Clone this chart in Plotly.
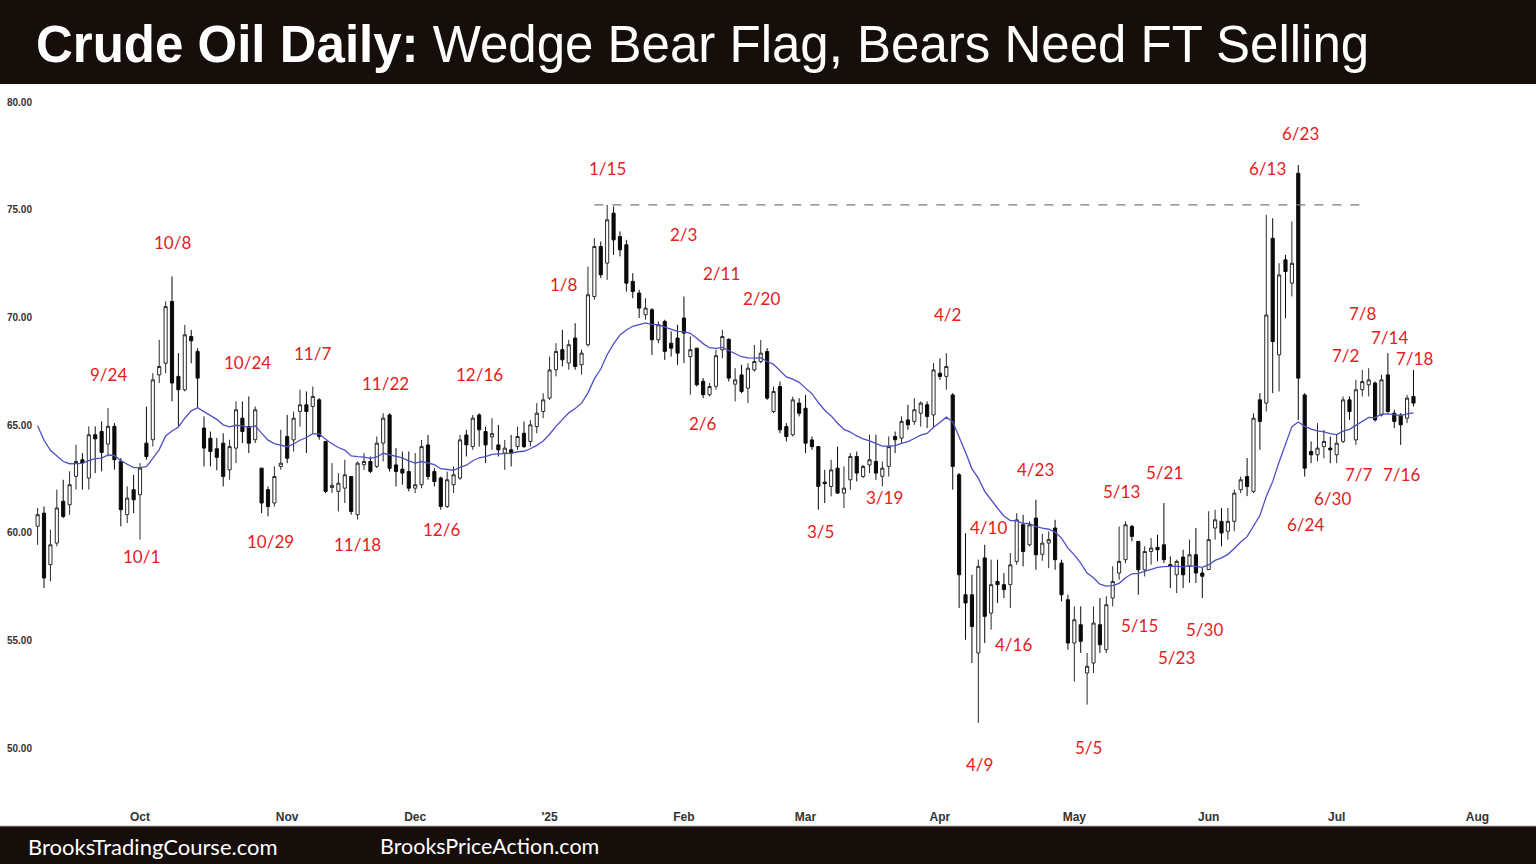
import pandas as pd
import plotly.graph_objects as go

# ---------------- data ----------------
HOLIDAYS = ["2024-11-28", "2024-12-25", "2025-01-01", "2025-01-20", "2025-02-17",
            "2025-04-18", "2025-05-26", "2025-06-19", "2025-07-04"]
DATES = pd.bdate_range("2024-09-09", "2025-07-18", freq="C", holidays=HOLIDAYS)

OPEN = [60.30, 60.91, 58.52, 59.52, 61.46, 61.30, 62.62, 63.39, 62.54, 64.55,
        64.70, 64.12, 64.94, 63.31, 60.84, 62.00, 61.77, 64.16, 64.32, 67.33,
        67.87, 70.74, 67.26, 66.64, 69.11, 68.42, 64.86, 64.39, 63.90, 64.16,
        62.92, 63.93, 65.32, 64.93, 64.32, 63.00, 62.00, 61.38, 63.08, 64.47,
        64.31, 65.63, 65.94, 65.86, 66.17, 64.24, 62.10, 61.92, 62.07, 62.61,
        60.84, 63.16, 63.31, 63.08, 64.16, 65.47, 63.15, 62.95, 62.84, 62.07,
        62.23, 64.08, 62.84, 62.54, 61.22, 62.23, 62.54, 64.54, 64.00, 65.47,
        64.70, 64.45, 64.08, 63.70, 63.85, 64.00, 64.62, 64.24, 64.93, 65.63,
        66.25, 67.57, 68.50, 67.88, 69.04, 67.80, 68.73, 70.97, 73.29, 72.52,
        74.84, 73.75, 73.37, 71.67, 71.13, 70.12, 70.35, 68.96, 69.81, 68.80,
        69.04, 69.97, 68.18, 68.57, 67.03, 66.41, 66.80, 68.49, 68.98, 66.90,
        67.33, 66.71, 67.56, 67.95, 68.41, 65.63, 66.79, 64.93, 64.55, 66.02,
        65.78, 64.31, 64.00, 62.35, 62.15, 63.00, 61.84, 62.46, 63.54, 62.61,
        63.15, 63.31, 62.62, 63.08, 64.47, 64.39, 65.24, 65.17, 65.55, 65.94,
        65.47, 67.41, 67.26, 66.40, 62.69, 57.12, 57.12, 54.42, 58.83, 56.27,
        57.74, 57.59, 57.59, 58.67, 60.37, 59.44, 60.68, 59.00, 59.52, 60.22,
        58.59, 56.89, 54.88, 55.73, 53.49, 53.95, 55.73, 54.57, 56.97, 58.13,
        58.75, 60.29, 59.60, 58.28, 59.13, 59.32, 59.44, 58.52, 58.05, 58.87,
        58.44, 58.98, 58.13, 58.29, 60.22, 60.53, 60.07, 60.53, 62.00, 62.61,
        61.92, 66.17, 66.02, 73.67, 68.26, 72.67, 71.59, 76.69, 66.40, 63.77,
        63.62, 64.00, 63.93, 63.62, 64.24, 66.17, 64.31, 66.64, 66.87, 66.95,
        65.47, 67.33, 65.55, 65.47, 65.32, 66.33]
HIGH = [61.15, 61.22, 60.14, 62.00, 62.46, 62.85, 64.09, 63.70, 64.94, 64.94,
        65.17, 65.79, 65.09, 63.47, 62.15, 62.69, 63.23, 65.86, 67.41, 68.96,
        70.74, 71.90, 68.34, 69.65, 69.42, 68.57, 65.40, 64.70, 64.40, 64.62,
        64.32, 66.10, 66.10, 66.33, 65.86, 63.00, 62.15, 63.08, 64.78, 65.47,
        65.63, 66.64, 66.56, 66.79, 66.25, 64.24, 63.23, 62.77, 63.39, 62.61,
        63.31, 63.70, 63.54, 64.47, 65.55, 65.55, 63.93, 63.77, 63.77, 63.70,
        64.31, 64.54, 63.00, 62.61, 62.84, 63.08, 64.54, 64.78, 65.47, 65.55,
        64.93, 65.32, 65.01, 64.31, 64.54, 64.93, 65.16, 65.24, 66.02, 66.48,
        68.18, 68.80, 69.42, 68.96, 69.73, 68.50, 72.36, 73.68, 73.52, 75.22,
        75.15, 73.99, 73.60, 72.05, 71.28, 70.89, 70.43, 69.81, 69.89, 69.35,
        69.66, 70.97, 69.11, 68.57, 67.18, 66.95, 68.50, 69.42, 69.03, 67.64,
        67.80, 67.87, 68.72, 68.95, 68.57, 66.79, 67.02, 65.09, 66.32, 66.25,
        66.40, 64.47, 64.00, 62.92, 63.39, 64.00, 63.08, 63.70, 63.77, 63.15,
        64.55, 64.55, 63.31, 64.47, 64.70, 65.40, 65.94, 66.25, 66.10, 66.10,
        67.87, 68.10, 68.34, 66.48, 62.77, 59.98, 58.05, 58.75, 59.44, 58.75,
        58.75, 58.13, 59.06, 60.91, 60.83, 60.53, 61.53, 59.95, 60.06, 60.60,
        58.75, 57.12, 56.58, 56.58, 54.42, 56.58, 56.97, 57.05, 58.44, 60.29,
        60.53, 60.37, 59.60, 59.37, 59.75, 59.91, 61.38, 58.90, 58.75, 59.21,
        59.68, 60.22, 58.36, 61.00, 61.07, 61.15, 61.15, 62.00, 62.61, 63.47,
        65.55, 66.48, 74.76, 74.60, 72.51, 72.90, 74.45, 77.08, 66.48, 64.24,
        65.09, 64.78, 64.47, 64.55, 66.33, 66.33, 67.10, 67.56, 67.64, 67.02,
        67.33, 68.34, 65.71, 65.55, 66.40, 67.56]
LOW = [59.44, 57.43, 57.74, 59.37, 60.68, 60.84, 62.00, 62.00, 62.00, 62.77,
       62.85, 63.54, 62.93, 60.30, 60.45, 60.91, 59.68, 63.39, 64.01, 66.95,
       67.41, 66.10, 64.94, 66.56, 67.87, 65.79, 63.08, 63.08, 62.90, 62.15,
       62.46, 63.23, 64.16, 63.70, 64.16, 60.91, 60.76, 61.22, 62.92, 63.23,
       63.77, 64.93, 63.70, 64.62, 64.32, 61.84, 61.84, 60.99, 61.38, 60.84,
       60.61, 62.92, 62.77, 63.00, 63.31, 62.84, 62.15, 62.23, 61.92, 61.84,
       62.07, 62.46, 62.15, 61.07, 61.15, 61.84, 62.46, 63.54, 63.85, 64.00,
       63.23, 63.85, 63.54, 62.92, 63.08, 63.85, 63.93, 64.00, 64.62, 65.32,
       66.17, 67.26, 67.72, 67.57, 67.57, 67.34, 68.65, 70.82, 71.82, 71.74,
       72.90, 72.83, 71.20, 70.89, 69.97, 69.89, 68.26, 68.80, 68.03, 68.18,
       67.80, 67.88, 66.41, 66.79, 66.25, 66.33, 66.64, 68.10, 67.02, 66.10,
       66.48, 66.02, 67.48, 67.87, 66.17, 65.55, 64.62, 64.24, 64.47, 65.40,
       63.70, 63.85, 61.07, 61.38, 61.69, 61.80, 61.15, 61.99, 62.38, 62.54,
       62.77, 62.46, 62.15, 62.61, 63.70, 64.16, 64.78, 65.01, 64.93, 64.86,
       64.86, 67.10, 66.64, 62.00, 56.51, 55.03, 53.95, 51.17, 54.88, 55.50,
       56.74, 56.97, 56.50, 58.52, 58.44, 59.37, 58.28, 58.70, 58.36, 58.28,
       56.81, 54.57, 53.10, 54.42, 52.02, 53.49, 54.42, 54.42, 56.58, 57.82,
       58.59, 59.60, 57.12, 57.97, 58.52, 58.67, 58.59, 57.43, 57.20, 57.43,
       57.67, 57.67, 56.97, 58.28, 59.68, 59.37, 59.68, 60.07, 61.84, 61.70,
       61.84, 63.85, 65.63, 66.48, 66.56, 69.96, 70.97, 65.24, 62.61, 63.23,
       63.31, 63.46, 63.23, 63.23, 64.16, 65.24, 64.08, 66.33, 66.33, 65.16,
       65.40, 65.55, 64.86, 64.08, 65.09, 65.86]
CLOSE = [60.84, 57.90, 59.44, 61.15, 60.76, 62.23, 63.31, 63.24, 64.55, 64.36,
         63.73, 64.94, 63.39, 61.07, 61.61, 61.53, 63.00, 63.54, 67.10, 67.72,
         70.50, 66.95, 66.64, 69.19, 68.91, 67.18, 63.93, 63.77, 63.50, 62.61,
         64.00, 65.71, 64.70, 64.16, 65.71, 61.38, 61.22, 62.61, 63.23, 63.46,
         65.32, 65.94, 65.63, 66.33, 64.47, 61.92, 62.20, 62.30, 62.69, 60.99,
         63.23, 63.31, 62.85, 64.16, 65.32, 62.99, 62.84, 62.77, 62.07, 62.23,
         64.00, 62.61, 62.38, 61.22, 62.46, 62.69, 64.31, 64.08, 65.32, 64.78,
         64.08, 64.60, 63.85, 63.93, 63.70, 64.47, 64.00, 65.01, 65.55, 66.17,
         67.56, 68.42, 68.03, 68.73, 67.72, 68.34, 71.05, 73.29, 71.98, 74.53,
         73.60, 73.14, 71.59, 71.20, 70.43, 70.43, 68.96, 69.66, 68.42, 68.57,
         68.34, 69.27, 68.50, 66.87, 66.41, 66.79, 68.22, 69.11, 67.18, 67.10,
         66.56, 67.64, 67.95, 68.34, 66.25, 66.56, 64.78, 64.47, 66.17, 65.55,
         64.16, 64.00, 62.15, 62.28, 62.92, 61.84, 62.07, 63.54, 62.77, 63.08,
         63.39, 62.77, 63.00, 64.00, 64.32, 65.17, 65.01, 65.71, 66.02, 65.40,
         67.56, 67.26, 67.72, 63.08, 58.05, 56.74, 55.65, 58.44, 56.12, 57.59,
         57.59, 57.36, 58.51, 60.60, 59.13, 60.37, 58.98, 59.52, 59.68, 58.75,
         57.12, 54.88, 55.96, 54.96, 53.80, 55.81, 54.80, 56.66, 57.74, 58.67,
         60.37, 59.83, 58.28, 59.13, 59.29, 59.21, 58.75, 58.44, 58.67, 58.05,
         58.98, 58.13, 57.98, 59.68, 60.60, 59.99, 60.53, 61.84, 62.46, 62.15,
         65.32, 65.17, 70.11, 68.88, 71.97, 72.13, 72.51, 67.18, 63.00, 63.62,
         63.93, 64.24, 63.85, 64.16, 66.17, 65.63, 66.64, 67.02, 67.10, 65.24,
         67.10, 65.63, 65.17, 65.01, 66.25, 66.02]

EMA_PERIOD = 20
EMA_SEED = 65.4          # moving-average value just before the first bar

MONTH_TICKS = ["2024-10-01", "2024-11-01", "2024-12-02", "2025-01-02", "2025-02-03",
               "2025-03-03", "2025-04-01", "2025-05-01", "2025-06-02", "2025-07-01",
               "2025-08-01"]
MONTH_TEXT = ["Oct", "Nov", "Dec", "'25", "Feb", "Mar", "Apr", "May", "Jun", "Jul", "Aug"]
PRICE_TICKS = [50, 55, 60, 65, 70, 75, 80]

RESIST_FROM = "2025-01-13"
RESIST_TO = "2025-07-08"
RESIST_BAR = "2025-01-15"

# (label, bar date, price level for the label, horizontal nudge in px)
LABELS = [
    ("9/24", "2024-09-24", 67.33, 0), ("10/1", "2024-10-01", 58.89, 1),
    ("10/8", "2024-10-08", 73.46, 0), ("10/24", "2024-10-24", 67.89, -1),
    ("10/29", "2024-10-29", 59.58, 2), ("11/7", "2024-11-07", 68.31, 0),
    ("11/18", "2024-11-18", 59.44, 0), ("11/22", "2024-11-22", 66.91, 2),
    ("12/6", "2024-12-06", 60.14, 1), ("12/16", "2024-12-16", 67.33, 0),
    ("1/8", "2025-01-08", 71.51, -11), ("1/15", "2025-01-15", 76.89, 0),
    ("2/3", "2025-02-03", 73.83, 0), ("2/6", "2025-02-06", 65.06, 0),
    ("2/11", "2025-02-11", 72.06, -1), ("2/20", "2025-02-20", 70.86, 1),
    ("3/5", "2025-03-05", 60.05, 2), ("3/19", "2025-03-19", 61.62, 2),
    ("4/2", "2025-04-02", 70.12, 1), ("4/9", "2025-04-09", 49.23, 1),
    ("4/10", "2025-04-10", 60.23, 4), ("4/16", "2025-04-16", 54.80, 3),
    ("4/23", "2025-04-23", 62.92, 0), ("5/5", "2025-05-05", 50.02, 1),
    ("5/13", "2025-05-13", 61.90, -4), ("5/15", "2025-05-15", 55.68, 1),
    ("5/21", "2025-05-21", 62.78, 1), ("5/23", "2025-05-23", 54.20, 0),
    ("5/30", "2025-05-30", 55.50, 2), ("6/13", "2025-06-13", 76.89, 1),
    ("6/23", "2025-06-23", 78.56, 2), ("6/24", "2025-06-24", 60.37, 1),
    ("6/30", "2025-06-30", 61.58, 2), ("7/2", "2025-07-02", 68.21, 2),
    ("7/7", "2025-07-07", 62.69, 3), ("7/8", "2025-07-08", 70.16, 1),
    ("7/14", "2025-07-14", 69.05, 2), ("7/16", "2025-07-16", 62.69, 1),
    ("7/18", "2025-07-18", 68.07, 1),
]

# ---------------- derived: 20-bar exponential moving average ----------------
alpha = 2.0 / (EMA_PERIOD + 1)
ema = []
prev = EMA_SEED
for c in CLOSE:
    prev = prev + alpha * (c - prev)
    ema.append(prev)

resist_level = HIGH[list(DATES.strftime("%Y-%m-%d")).index(RESIST_BAR)]

# ---------------- layout geometry ----------------
W, H = 1536, 864
ML, MR, MT, MB = 33, 6, 88, 56
PW, PH = W - ML - MR, H - MT - MB


def px_x(x):
    return (x - ML) / PW


def px_y(y):
    return (H - MB - y) / PH


BAND = "#150e0b"
RED = "#e3201c"

fig = go.Figure()
fig.add_trace(go.Candlestick(
    x=DATES, open=OPEN, high=HIGH, low=LOW, close=CLOSE,
    increasing=dict(fillcolor="#ffffff", line=dict(color="#2a2a2a", width=1)),
    decreasing=dict(fillcolor="#0a0a0a", line=dict(color="#0a0a0a", width=1)),
    whiskerwidth=0, hoverinfo="skip", showlegend=False,
))
fig.add_trace(go.Scatter(
    x=DATES, y=ema, mode="lines", line=dict(color="#4f4fc4", width=1.3),
    hoverinfo="skip", showlegend=False,
))
fig.add_trace(go.Scatter(
    x=[RESIST_FROM, RESIST_TO], y=[resist_level, resist_level], mode="lines",
    line=dict(color="#7a7a7a", width=1.2, dash="dash"),
    hoverinfo="skip", showlegend=False,
))

annotations = []
for text, d, yv, dx in LABELS:
    annotations.append(dict(
        x=d, y=yv, xref="x", yref="y", text=text, showarrow=False, xshift=dx,
        font=dict(family="Lato, Open Sans, sans-serif", size=17, color=RED),
        xanchor="center", yanchor="middle",
    ))

annotations.append(dict(
    x=px_x(34), y=px_y(44), xref="paper", yref="paper", xanchor="left", yanchor="middle",
    text="<b>Crude Oil Daily:</b> Wedge Bear Flag, Bears Need FT Selling", showarrow=False,
    font=dict(family="Liberation Sans, Arial, sans-serif", size=51, color="#ffffff"),
))
annotations.append(dict(
    x=px_x(26), y=px_y(846), xref="paper", yref="paper", xanchor="left", yanchor="middle",
    text="BrooksTradingCourse.com", showarrow=False,
    font=dict(family="Lato, Open Sans, sans-serif", size=22, color="#ffffff"),
))
annotations.append(dict(
    x=px_x(378), y=px_y(846), xref="paper", yref="paper", xanchor="left", yanchor="middle",
    text="BrooksPriceAction.com", showarrow=False,
    font=dict(family="Lato, Open Sans, sans-serif", size=21.5, color="#ffffff"),
))

shapes = [
    dict(type="rect", xref="paper", yref="paper", x0=px_x(0), x1=px_x(W),
         y0=px_y(84), y1=px_y(0), fillcolor=BAND, line=dict(width=0), layer="below"),
    dict(type="rect", xref="paper", yref="paper", x0=px_x(0), x1=px_x(W),
         y0=px_y(H), y1=px_y(826), fillcolor=BAND, line=dict(width=0), layer="below"),
    dict(type="line", xref="paper", yref="paper", x0=px_x(0), x1=px_x(W),
         y0=px_y(826), y1=px_y(826), line=dict(color="#b5b0a8", width=1)),
]

fig.update_layout(
    width=W, height=H,
    margin=dict(l=ML, r=MR, t=MT, b=MB, pad=0),
    paper_bgcolor="#ffffff", plot_bgcolor="#ffffff",
    annotations=annotations, shapes=shapes,
    hovermode=False,
    xaxis=dict(
        type="date",
        rangebreaks=[dict(bounds=["sat", "mon"]), dict(values=HOLIDAYS)],
        range=["2024-09-06 06:40", "2025-08-13 05:00"],
        rangeslider=dict(visible=False),
        tickmode="array", tickvals=MONTH_TICKS, ticktext=MONTH_TEXT,
        showgrid=False, zeroline=False, showline=False, ticks="",
        tickfont=dict(family="Liberation Sans Narrow, Arial Narrow, Liberation Sans, Arial",
                      size=12, color="#333333", weight="bold"),
        fixedrange=True,
    ),
    yaxis=dict(
        range=[47.22, 80.65],
        tickmode="array", tickvals=PRICE_TICKS, tickformat=".2f",
        showgrid=False, zeroline=False, showline=False, ticks="",
        tickfont=dict(family="Liberation Sans Narrow, Arial Narrow, Liberation Sans, Arial",
                      size=10, color="#333333", weight="bold"),
        fixedrange=True,
    ),
)

fig.write_html("out.html", config={"displayModeBar": False})
